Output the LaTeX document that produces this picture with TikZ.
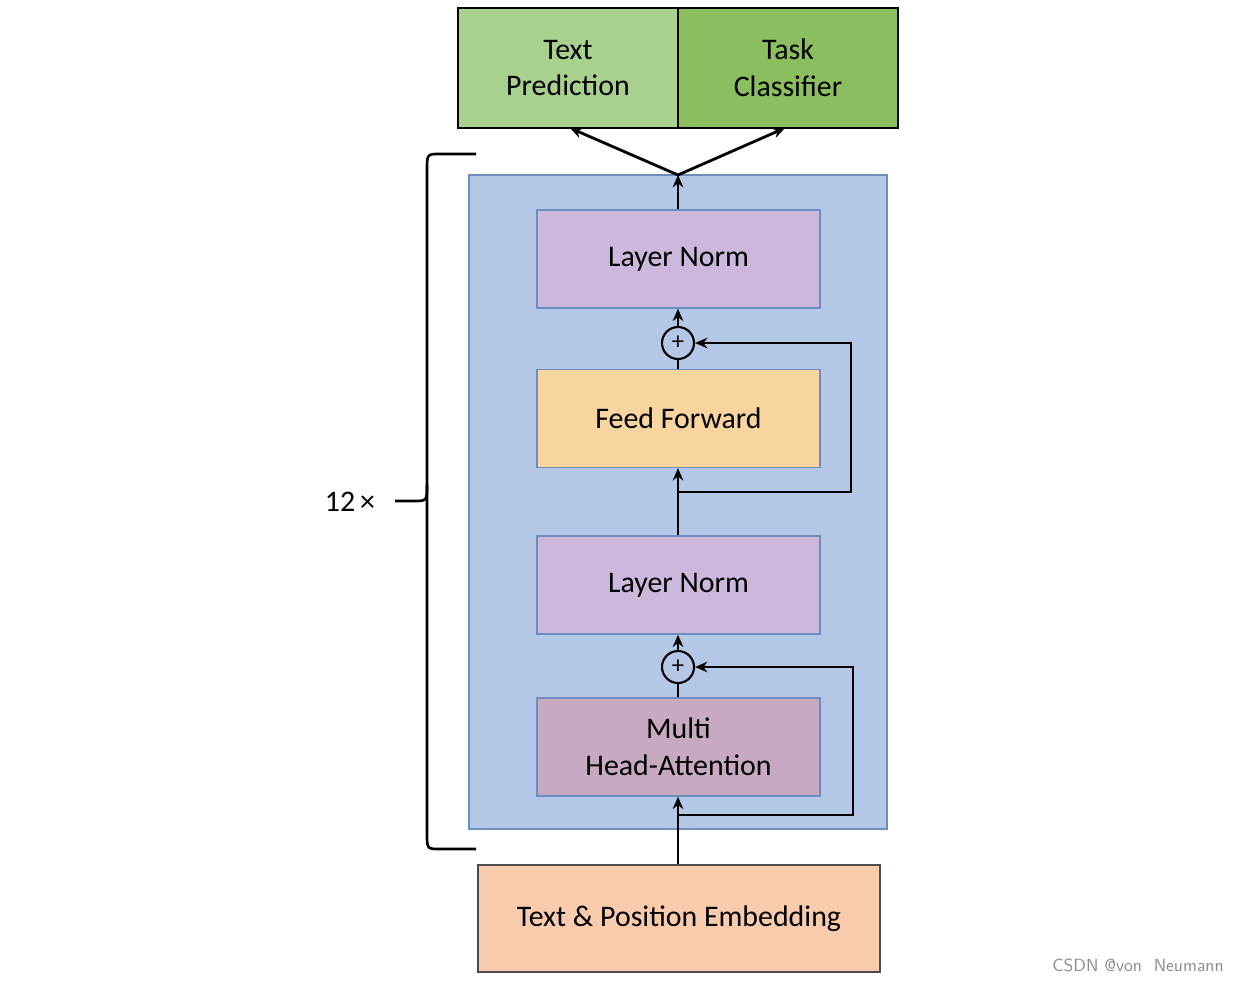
\documentclass[tikz,border=0pt]{standalone}
\usepackage{fontspec}
\setmainfont{Carlito}
\usetikzlibrary{arrows.meta,decorations.pathreplacing}
\definecolor{tgreen}{HTML}{A9D18E}
\definecolor{cgreen}{HTML}{8BBE5E}
\definecolor{blueb}{HTML}{B4C7E7}
\definecolor{bluebd}{HTML}{6C8EBF}
\definecolor{lav}{HTML}{CBB8DC}
\definecolor{ff}{HTML}{F8D49E}
\definecolor{mha}{HTML}{C7A9C1}
\definecolor{emb}{HTML}{F8CBAD}
\begin{document}
\begin{tikzpicture}[x=0.02cm,y=-0.02cm,
  blk/.style={draw=bluebd,line width=0.8pt,minimum width=283*0.02cm,minimum height=98*0.02cm,align=center,font=\fontsize{17}{21}\selectfont},
  top/.style={draw=black,line width=1.2pt,minimum width=220*0.02cm,minimum height=120*0.02cm,align=center,font=\fontsize{17}{21}\selectfont},
  arr/.style={line width=1.6pt,-{Stealth[length=7pt,width=6pt]}},
  ln/.style={line width=1.6pt},
  pl/.style={circle,draw,line width=1.2pt,minimum size=32*0.02cm,inner sep=0pt}]
\useasboundingbox (0,0) rectangle (1243,981);
\fill[white] (0,0) rectangle (1243,981);
\node[top,fill=tgreen] (tp) at (568,68) {Text\\Prediction};
\node[top,fill=cgreen] (tc) at (788,68) {Task\\Classifier};
\node[draw=bluebd,line width=0.8pt,fill=blueb,minimum width=418*0.02cm,minimum height=654*0.02cm] (bb) at (678,502) {};
\node[blk,fill=lav] (ln1) at (678.5,259) {Layer Norm};
\node[pl] (p1) at (678,343) {};
\node[font=\fontsize{14}{14}\selectfont] at (p1) {+};
\node[blk,fill=ff] (ffn) at (678.5,418.5) {Feed Forward};
\node[blk,fill=lav] (ln2) at (678.5,585) {Layer Norm};
\node[pl] (p2) at (678,667) {};
\node[font=\fontsize{14}{14}\selectfont] at (p2) {+};
\node[blk,fill=mha] (mh) at (678.5,747) {Multi\\Head-Attention};
\node[draw=black!70,line width=1pt,fill=emb,minimum width=402*0.02cm,minimum height=107*0.02cm,font=\fontsize{17}{21}\selectfont] (em) at (679,918.5) {Text \& Position Embedding};
\coordinate (j) at (678,175);
\coordinate (r1) at (678,815);
\coordinate (r2) at (678,492);
\draw[arr] (em.north -| 678,0) -- (mh.south -| 678,0);
\draw[arr] (r1) -- (853,815) -- (853,667) -- (p2.east);
\draw[ln] (mh.north -| 678,0) -- (p2.south);
\draw[arr] (p2.north) -- (ln2.south -| 678,0);
\draw[arr] (ln2.north -| 678,0) -- (ffn.south -| 678,0);
\draw[arr] (r2) -- (851,492) -- (851,343) -- (p1.east);
\draw[ln] (ffn.north -| 678,0) -- (p1.south);
\draw[arr] (p1.north) -- (ln1.south -| 678,0);
\draw[arr] (ln1.north -| 678,0) -- (j);
\draw[arr] (j) -- (570,128);
\draw[arr] (j) -- (785,128);
\draw[line width=1.5pt] (476,154) -- (440,154) .. controls (427,154) .. (427,170) -- (427,485) .. controls (427,501) .. (413,501) -- (395,501);
\draw[line width=1.5pt] (427,485) -- (427,833) .. controls (427,849) .. (440,849) -- (476,849);
\node[font=\fontsize{17}{21}\selectfont] (n12) at (350,502) {12\,×};
\node[text=black!45,font=\fontsize{10}{12}\selectfont\sffamily] (wm) at (1138,965) {CSDN @von\ \ Neumann};
\end{tikzpicture}
\end{document}
